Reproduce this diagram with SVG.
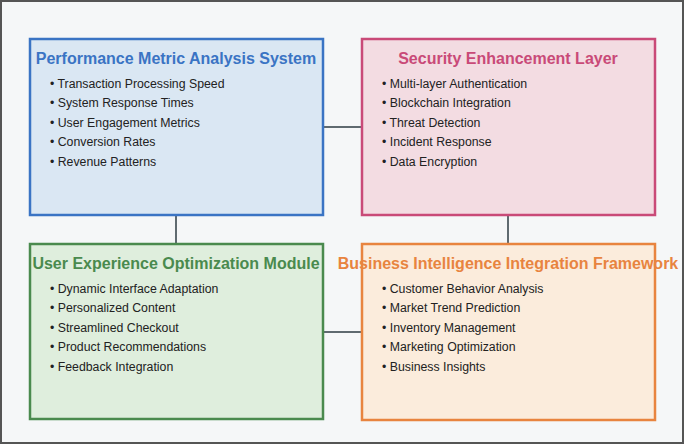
<svg xmlns="http://www.w3.org/2000/svg" width="685" height="444" viewBox="0 0 685 444">
<style>
.t{font-family:"Helvetica Neue","Liberation Sans",Arial,sans-serif;font-weight:bold;font-size:16px;text-anchor:middle}
.i{font-family:"Helvetica Neue","Liberation Sans",Arial,sans-serif;font-size:12.3px;fill:#222}
.c{stroke:#5f6a70;stroke-width:2;fill:none}
.b{stroke-width:2.5}
</style>
<rect x="1" y="1" width="682" height="442" fill="#f5f7f8" stroke="#555" stroke-width="2"/>
<g id="connectors">
<line class="c" x1="323" y1="127" x2="362" y2="127"/>
<line class="c" x1="176" y1="215" x2="176" y2="244"/>
<line class="c" x1="508" y1="215" x2="508" y2="244"/>
<line class="c" x1="323" y1="332" x2="362" y2="332"/>
</g>
<g id="performance">
<rect class="b" x="30" y="39" width="293" height="176" fill="#dae7f3" stroke="#3a74c4"/>
<text class="t" x="176" y="64" fill="#3a74c4">Performance Metric Analysis System</text>
<text class="i" x="50" y="88">• Transaction Processing Speed</text>
<text class="i" x="50" y="107">• System Response Times</text>
<text class="i" x="50" y="127">• User Engagement Metrics</text>
<text class="i" x="50" y="146">• Conversion Rates</text>
<text class="i" x="50" y="166">• Revenue Patterns</text>
</g>
<g id="security">
<rect class="b" x="362" y="39" width="293" height="176" fill="#f3dce2" stroke="#c94a78"/>
<text class="t" x="508" y="64" fill="#c94a78">Security Enhancement Layer</text>
<text class="i" x="382" y="88">• Multi-layer Authentication</text>
<text class="i" x="382" y="107">• Blockchain Integration</text>
<text class="i" x="382" y="127">• Threat Detection</text>
<text class="i" x="382" y="146">• Incident Response</text>
<text class="i" x="382" y="166">• Data Encryption</text>
</g>
<g id="ux">
<rect class="b" x="30" y="244" width="293" height="175" fill="#dfeedd" stroke="#4a8a4e"/>
<text class="t" x="176" y="269" fill="#4a8a4e">User Experience Optimization Module</text>
<text class="i" x="50" y="293">• Dynamic Interface Adaptation</text>
<text class="i" x="50" y="312">• Personalized Content</text>
<text class="i" x="50" y="332">• Streamlined Checkout</text>
<text class="i" x="50" y="351">• Product Recommendations</text>
<text class="i" x="50" y="371">• Feedback Integration</text>
</g>
<g id="bi">
<rect class="b" x="362" y="244" width="293" height="176" fill="#fbecdc" stroke="#e8843f"/>
<text class="t" x="508" y="269" fill="#e8843f">Business Intelligence Integration Framework</text>
<text class="i" x="382" y="293">• Customer Behavior Analysis</text>
<text class="i" x="382" y="312">• Market Trend Prediction</text>
<text class="i" x="382" y="332">• Inventory Management</text>
<text class="i" x="382" y="351">• Marketing Optimization</text>
<text class="i" x="382" y="371">• Business Insights</text>
</g>
</svg>
